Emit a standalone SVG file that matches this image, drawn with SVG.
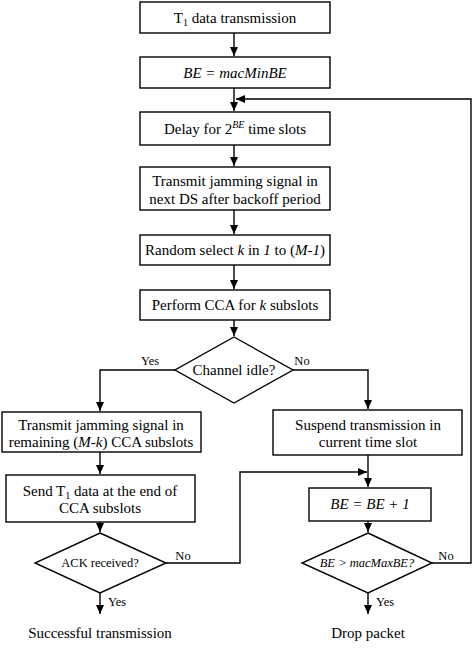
<svg xmlns="http://www.w3.org/2000/svg" width="474" height="648" viewBox="0 0 474 648">
<defs>
<style>
.box{fill:#fff;stroke:#000;stroke-width:1.4}
.ln{fill:none;stroke:#000;stroke-width:1.4}
text{font-family:Liberation Serif,Tinos,Times New Roman,DejaVu Serif,serif;fill:#000}
.t{font-size:15px;text-anchor:middle}
.s{font-size:12.5px}
.i{font-style:italic}
</style>
<marker id="ah" markerWidth="10" markerHeight="10" refX="9" refY="4" orient="auto" markerUnits="userSpaceOnUse">
<path d="M0,0 L9,4 L0,8 Z" fill="#000"/>
</marker>
</defs>
<rect width="474" height="648" fill="#fff"/>
<g id="connectors">
<path class="ln" d="M234,33 V56" marker-end="url(#ah)"/>
<path class="ln" d="M234,88 V111" marker-end="url(#ah)"/>
<path class="ln" d="M234,145 V166" marker-end="url(#ah)"/>
<path class="ln" d="M234,210 V234" marker-end="url(#ah)"/>
<path class="ln" d="M234,265 V289" marker-end="url(#ah)"/>
<path class="ln" d="M234,320 V336" marker-end="url(#ah)"/>
<path class="ln" d="M175,370 H100 V411" marker-end="url(#ah)"/>
<path class="ln" d="M293,370 H368 V409" marker-end="url(#ah)"/>
<path class="ln" d="M100,452 V474" marker-end="url(#ah)"/>
<path class="ln" d="M100,522 V532" marker-end="url(#ah)"/>
<path class="ln" d="M368,455 V487" marker-end="url(#ah)"/>
<path class="ln" d="M368,521 V532" marker-end="url(#ah)"/>
<path class="ln" d="M166,563 H240 V472 H367" marker-end="url(#ah)"/>
<path class="ln" d="M432,563 H471 V99 H236" marker-end="url(#ah)"/>
<path class="ln" d="M100,593 V614" marker-end="url(#ah)"/>
<path class="ln" d="M368,593 V614" marker-end="url(#ah)"/>
<text class="s" x="150" y="365" text-anchor="middle">Yes</text>
<text class="s" x="302" y="365" text-anchor="middle">No</text>
<text class="s" x="183" y="560" text-anchor="middle">No</text>
<text class="s" x="446" y="560" text-anchor="middle">No</text>
<text class="s" x="108" y="606">Yes</text>
<text class="s" x="376" y="606">Yes</text>
</g>
<g id="n1"><rect class="box" x="140" y="2" width="190" height="31"/><text class="t" x="235" y="23">T<tspan font-size="10" dy="3">1</tspan><tspan dy="-3"> data transmission</tspan></text></g>
<g id="n2"><rect class="box" x="140" y="57" width="190" height="31"/><text class="t i" x="235" y="78">BE = macMinBE</text></g>
<g id="n3"><rect class="box" x="140" y="112" width="190" height="33"/><text class="t" x="235" y="134">Delay for 2<tspan class="i" font-size="10" dy="-6">BE</tspan><tspan dy="6"> time slots</tspan></text></g>
<g id="n4"><rect class="box" x="140" y="167" width="190" height="43"/><text class="t" x="235" y="186">Transmit jamming signal in</text><text class="t" x="235" y="204">next DS after backoff period</text></g>
<g id="n5"><rect class="box" x="140" y="235" width="190" height="30"/><text class="t" x="235" y="255">Random select <tspan class="i">k</tspan> in <tspan class="i">1</tspan> to (<tspan class="i">M-1</tspan>)</text></g>
<g id="n6"><rect class="box" x="140" y="290" width="190" height="30"/><text class="t" x="235" y="310">Perform CCA for <tspan class="i">k</tspan> subslots</text></g>
<g id="n7"><path class="box" d="M234,337 L293,370 L234,403 L175,370 Z"/><text class="t" x="234" y="375">Channel idle?</text></g>
<g id="n8"><rect class="box" x="2" y="412" width="199" height="40"/><text class="t" x="101" y="430">Transmit jamming signal in</text><text class="t" x="101" y="447">remaining (<tspan class="i">M-k</tspan>) CCA subslots</text></g>
<g id="n9"><rect class="box" x="273" y="410" width="189" height="45"/><text class="t" x="368" y="430">Suspend transmission in</text><text class="t" x="368" y="447">current time slot</text></g>
<g id="n10"><rect class="box" x="6" y="475" width="189" height="47"/><text class="t" x="100" y="496">Send T<tspan font-size="10" dy="3">1</tspan><tspan dy="-3"> data at the end of</tspan></text><text class="t" x="100" y="513">CCA subslots</text></g>
<g id="n11"><rect class="box" x="309" y="488" width="122" height="33"/><text class="t i" x="370" y="509">BE = BE + 1</text></g>
<g id="n12"><path class="box" d="M100,533 L166,563 L100,593 L35,563 Z"/><text class="s" x="100" y="567" text-anchor="middle">ACK received?</text></g>
<g id="n13"><path class="box" d="M368,533 L432,563 L368,593 L302,563 Z"/><text class="s i" x="367" y="567" text-anchor="middle">BE &gt; macMaxBE?</text></g>
<g id="n14"><text class="t" x="100" y="638">Successful transmission</text></g>
<g id="n15"><text class="t" x="368" y="638">Drop packet</text></g>
</svg>
